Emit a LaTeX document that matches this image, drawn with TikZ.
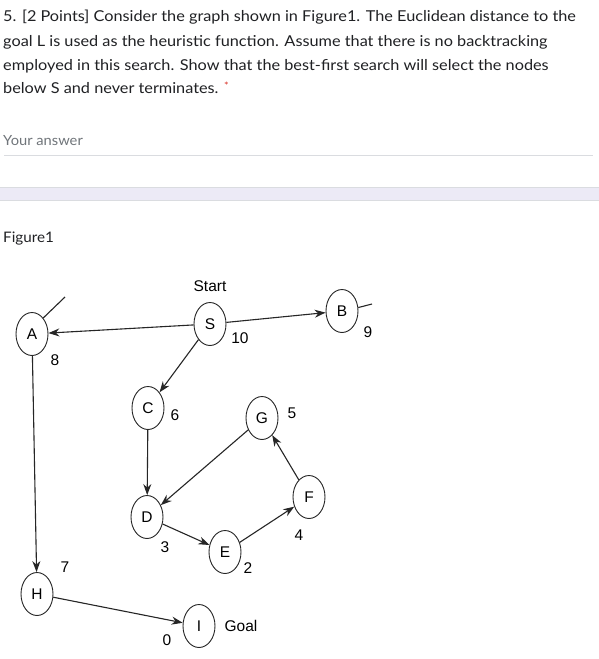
\documentclass[tikz,border=0pt]{standalone}
\usepackage{fontspec}
\setmainfont{Liberation Sans}
\newfontfamily\qfont[FakeStretch=1.085]{Lato}
\newfontfamily\qfontb[FakeStretch=1.05]{Lato}
\usetikzlibrary{shapes.geometric,arrows.meta}
\definecolor{qtext}{HTML}{202124}
\definecolor{qgrey}{HTML}{70757A}
\definecolor{qline}{HTML}{DADCE0}
\definecolor{qband}{HTML}{ECEAF6}
\definecolor{qred}{HTML}{D93025}
\begin{document}
\begin{tikzpicture}[x=1pt,y=-1pt,
  st/.style={ellipse,draw=black!85,line width=0.9pt,minimum width=32pt,minimum height=43pt,inner sep=0pt,font=\fontsize{15.5}{18}\selectfont},
  lbl/.style={font=\fontsize{15.5}{18}\selectfont,inner sep=0pt},
  edge/.style={draw=black!85,line width=1.1pt,-{Stealth[length=11pt,width=8pt]}},
  stub/.style={draw=black!85,line width=1.1pt},
  q/.style={anchor=base west,inner sep=0pt,font=\qfont\fontsize{15}{18}\selectfont,text=qtext}]
\useasboundingbox (0,0) rectangle (599,659);
\fill[white] (0,0) rectangle (599,659);
% question text
\node[q] (l1) at (3,21.7) {5. [2 Points] Consider the graph shown in Figure1. The Euclidean distance to the};
\node[q] (l2) at (3,46.5) {goal L is used as the heuristic function. Assume that there is no backtracking};
\node[q] (l3) at (3,70) {employed in this search. Show that the best-first search will select the nodes};
\node[q] (l4) at (3,93.5) {below S and never terminates. \textcolor{qred}{\raisebox{4pt}{\fontsize{10}{10}\selectfont *}}};
\node[q,text=qgrey,font=\qfontb\fontsize{14}{16}\selectfont] (ya) at (3,145.7) {Your answer};
\draw[qline,line width=1pt] (4,155) -- (593,155);
% band
\fill[qband] (0,187.5) rectangle (599,200);
\draw[qline,line width=1pt] (0,187.5) -- (599,187.5) (0,200) -- (599,200);
\node[q,font=\qfontb\fontsize{14.5}{16}\selectfont] (fig) at (3,242) {Figure1};
% graph nodes
\node[st] (A) at (32,334) {A};
\node[st] (S) at (210,324) {S};
\node[st] (B) at (342,311) {B};
\node[st] (C) at (148,408) {C};
\node[st] (G) at (262,418) {G};
\node[st] (D) at (147,517) {D};
\node[st] (E) at (225,552) {E};
\node[st] (F) at (309,497) {F};
\node[st] (H) at (37,594) {H};
\node[st] (I) at (199,626) {I};
% labels
\node[lbl] (start) at (210,286) {Start};
\node[lbl] (hS) at (240,338) {10};
\node[lbl] (hA) at (55,360) {8};
\node[lbl] (hB) at (368,332) {9};
\node[lbl] (hC) at (175,415) {6};
\node[lbl] (hG) at (292,413) {5};
\node[lbl] (hD) at (165,547) {3};
\node[lbl] (hE) at (248,568) {2};
\node[lbl] (hF) at (299,535) {4};
\node[lbl] (hH) at (65,567) {7};
\node[lbl] (hI) at (167,640) {0};
\node[lbl] (goal) at (241,626) {Goal};
% stubs
\coordinate (aend) at (65,297);
\coordinate (bend) at (372,304);
\draw[stub] (A.55) -- (aend);
\draw[stub] (B.12) -- (bend);
% edges
\draw[edge] (S) -- (A);
\draw[edge] (S) -- (B);
\draw[edge] (S) -- (C);
\draw[edge] (A) -- (H);
\draw[edge] (C) -- (D);
\draw[edge] (G) -- (D);
\draw[edge] (D) -- (E);
\draw[edge] (E) -- (F);
\draw[edge] (F) -- (G);
\draw[edge] (H) -- (I);
\end{tikzpicture}
\end{document}
